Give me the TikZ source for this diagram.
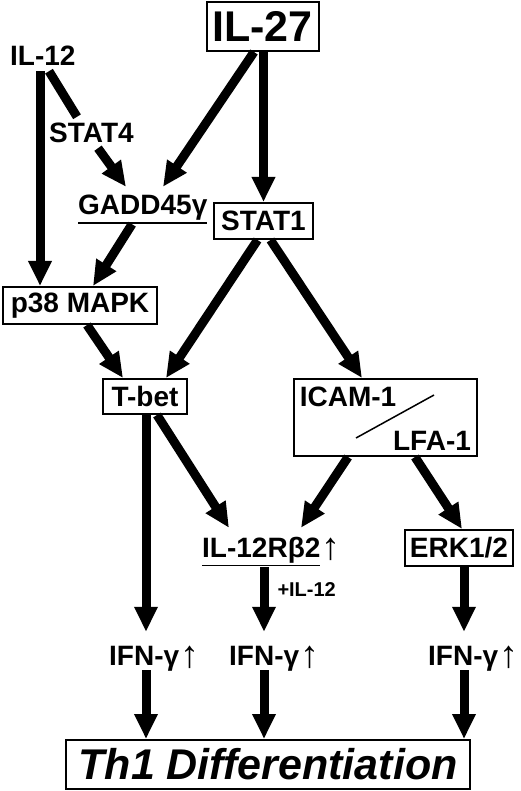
\documentclass[tikz,border=0pt]{standalone}
\usepackage{fontspec}
\setmainfont{Liberation Sans}
\usepackage{tikz}
\usetikzlibrary{arrows.meta}
\newcommand{\ulined}[1]{\setbox0\hbox{#1}\rlap{\rule[-9pt]{\wd0}{1.5pt}}\box0}
\newcommand{\uparr}{\raisebox{-2pt}{\fontsize{38}{38}\selectfont↑}}
\tikzset{
  lbl/.style={font=\fontsize{28}{30}\selectfont\bfseries, inner sep=0pt},
  box/.style={lbl, draw, line width=2pt},
  arr/.style={line width=9pt, -{Triangle[width=22pt,length=25pt]}},
}
\begin{document}
\begin{tikzpicture}[x=1pt,y=1pt,yscale=-1,xscale=1]
\path[use as bounding box] (0,0) rectangle (520,791);

%Shape: Rectangle
\node[box, font=\fontsize{43}{45}\selectfont\bfseries, minimum width=112pt, minimum height=49pt] (il27) at (262.5,26.5) {IL-27};
% Text Node
\node[lbl, anchor=base west, text depth=5pt] (il12) at (10,66) {IL-12};
% Text Node
\node[lbl, anchor=base west, text height=26pt, text depth=5pt] (stat4) at (49,143) {STAT4};
% Text Node
\node[lbl, anchor=base west, text height=28pt, text depth=9pt] (gadd) at (78,215) {\ulined{GADD45γ}};
%Shape: Rectangle
\node[box, minimum width=99pt, minimum height=36pt] (stat1) at (263.5,221) {STAT1};
%Shape: Rectangle
\node[box, minimum width=154pt, minimum height=37pt] (p38) at (80,305.5) {p38 MAPK};
%Shape: Rectangle
\node[box, minimum width=84pt, minimum height=35pt] (tbet) at (145,396.5) {T-bet};
%Shape: Rectangle
\node[box, minimum width=183pt, minimum height=77pt] (icambox) at (385.5,417.5) {};
% Text Node
\node[lbl] (icam) at (348,397) {ICAM-1};
% Text Node
\node[lbl] (lfa) at (432,441) {LFA-1};
%Straight Lines
\draw[line width=1.5pt] (356,438) -- (434,395);
% Text Node
\node[lbl, anchor=base west, text height=29pt, text depth=10pt] (il12r) at (202,557) {\ulined{IL-12Rβ2}\kern1pt\uparr};
%Shape: Rectangle
\node[box, minimum width=108pt, minimum height=36pt] (erk) at (459,548) {ERK1/2};
% Text Node
\node[lbl, anchor=base west, text height=33pt, text depth=5pt] (ifn1) at (109,665) {IFN-γ\kern1pt\uparr};
% Text Node
\node[lbl, anchor=base west, text height=33pt, text depth=5pt] (ifn2) at (229,665) {IFN-γ\kern1pt\uparr};
% Text Node
\node[lbl, anchor=base west, text height=33pt, text depth=5pt] (ifn3) at (428,665) {IFN-γ\kern1pt\uparr};
%Shape: Rectangle
\node[box, font=\fontsize{43}{45}\selectfont\bfseries\itshape, minimum width=404pt, minimum height=49pt] (th1) at (268,764.5) {Th1 Differentiation};

%Straight Lines
\draw[arr] ([xshift=-8.5pt]il27.south) -- ([xshift=85pt]gadd.north west);
\draw[arr] ([xshift=1pt]il27.south) -- (stat1.north);
\draw[arr] ([xshift=30pt]il12.south west) -- ([xshift=-40pt]p38.north);
\draw[line width=9pt] ([xshift=39pt]il12.south west) -- ([xshift=28pt]stat4.north west);
\draw[arr] ([xshift=49pt]stat4.south west) -- ([xshift=48pt]gadd.north west);
\draw[arr] ([xshift=54pt]gadd.south west) -- ([xshift=13pt]p38.north);
\draw[arr] ([xshift=7pt]p38.south) -- ([xshift=-22pt]tbet.north);
\draw[arr] ([xshift=-6pt]stat1.south) -- ([xshift=21pt]tbet.north);
\draw[arr] ([xshift=7pt]stat1.south) -- ([xshift=-23.5pt]icambox.north);
\draw[arr] ([xshift=1pt]tbet.south) -- ([xshift=37pt]ifn1.north west);
\draw[arr] ([xshift=12pt]tbet.south) -- ([xshift=27pt]il12r.north west);
\draw[arr] ([xshift=-37.5pt]icambox.south) -- ([xshift=99pt]il12r.north west);
\draw[arr] ([xshift=29.5pt]icambox.south) -- ([xshift=3pt]erk.north);
\draw[arr] ([xshift=62pt]il12r.south west) -- node[anchor=west, pos=0.35, xshift=9pt, inner sep=0pt, font=\fontsize{20}{22}\selectfont\bfseries] (plus) {+IL-12} ([xshift=35pt]ifn2.north west);
\draw[arr] ([xshift=5pt]erk.south) -- ([xshift=36pt]ifn3.north west);
\draw[arr] ([xshift=37pt]ifn1.south west) -- ([xshift=-122pt]th1.north);
\draw[arr] ([xshift=35pt]ifn2.south west) -- ([xshift=-4pt]th1.north);
\draw[arr] ([xshift=36pt]ifn3.south west) -- ([xshift=196pt]th1.north);

\end{tikzpicture}
\end{document}
